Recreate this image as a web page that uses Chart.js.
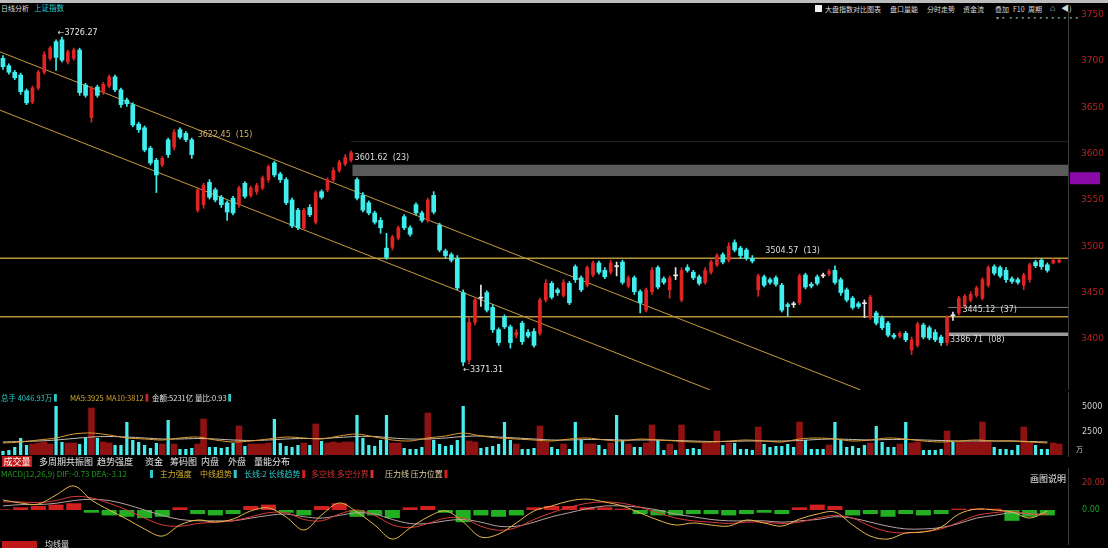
<!DOCTYPE html>
<html lang="zh">
<head>
<meta charset="utf-8">
<title>上证指数</title>
<script src="https://cdn.jsdelivr.net/npm/chart.js@4.4.0/dist/chart.umd.min.js"></script>
<style>
  body { margin: 0; background: #000; }
  #wrap { position: relative; width: 1108px; height: 548px; overflow: hidden; background: #000;
          font-family: "Noto Sans CJK SC", "Noto Sans", sans-serif; }
  canvas { position: absolute; left: 0; }
  .t { position: absolute; font-size: 7px; line-height: 10px; white-space: nowrap; }
  .tab { position: absolute; top: 456px; font-size: 9px; line-height: 11px; color: #e6e6e6; white-space: nowrap; }
</style>
</head>
<body>
<div id="wrap">
  <div style="position:absolute;left:0;top:0;width:1108px;height:3px;background:#bdbdbd"></div>
  <div class="t" style="left:1px;top:3px;font-size:7px;color:#dcdcdc">日线分析</div>
  <div class="t" style="left:34px;top:3px;font-size:7.5px;color:#2fc8c8">上证指数</div>

  <div style="position:absolute;left:815px;top:5px;width:7px;height:7px;background:#eee"></div>
  <div class="t" style="left:825px;top:4px;color:#d8d8d8">大盘指数对比图表</div>
  <div class="t" style="left:890px;top:4px;color:#d8d8d8">盘口量能</div>
  <div class="t" style="left:927px;top:4px;color:#d8d8d8">分时走势</div>
  <div class="t" style="left:963px;top:4px;color:#d8d8d8">资金流</div>
  <div class="t" style="left:995px;top:4px;color:#d8d8d8">叠加</div>
  <div class="t" style="left:1013px;top:4px;color:#d8d8d8">F10</div>
  <div class="t" style="left:1028px;top:4px;color:#d8d8d8">周期</div>
  <div class="t" style="left:1050px;top:3px;color:#d8d8d8;font-size:9px">⌂</div>
  <div class="t" style="left:1061px;top:3px;color:#d8d8d8;font-size:8px">◀)</div>
  <div class="t" style="left:996px;top:14px;color:#9a9a9a;font-size:6px;line-height:7px">▾ ▪  ▪▪▪▪▪▪▪▪▪▪▪▪</div>

  <canvas id="priceChart" width="1108" height="385" style="top:5px"></canvas>
  <canvas id="volChart" width="1108" height="65" style="top:392px"></canvas>
  <canvas id="macdChart" width="1108" height="77" style="top:468px"></canvas>

  <div class="t" style="left:1px;top:393px;font-size:7.5px;color:#2fc8c8">总手 4046.93万 ▍</div>
  <div class="t" style="left:70px;top:393px;font-size:7.5px;color:#d8b030">MA5:3925</div>
  <div class="t" style="left:106px;top:393px;font-size:7.5px;color:#d8a030">MA10:3812 <span style="color:#d02020">▍</span></div>
  <div class="t" style="left:152px;top:393px;font-size:7.5px;color:#e0e0e0">金额:5231亿 量比:0.93 <span style="color:#2fc8c8">▍</span></div>
  <div class="t" style="left:1076px;top:444px;color:#d0d0d0">万</div>

  <div style="position:absolute;left:0;top:455px;width:1068px;height:12px;background:#000"></div>
  <div class="tab" style="left:2px;width:30px;height:11px;background:#c41a1a;color:#fff;text-align:center">成交量</div>
  <div class="tab" style="left:39px">多周期共振图</div>
  <div class="tab" style="left:97px">趋势强度</div>
  <div class="tab" style="left:145px">资金</div>
  <div class="tab" style="left:170px">筹码图</div>
  <div class="tab" style="left:201px">内盘</div>
  <div class="tab" style="left:228px">外盘</div>
  <div class="tab" style="left:254px">量能分布</div>

  <div class="t" style="left:1px;top:469px;font-size:8px;color:#1f9c1f">MACD(12,26,9) DIF:-0.73 DEA:-3.12</div>
  <div class="t" style="left:150px;top:469px;font-size:8px;color:#d8b030"><span style="color:#2fc8c8">▍</span> 主力强度</div>
  <div class="t" style="left:200px;top:469px;font-size:8px;color:#d8b030">中线趋势 <span style="color:#2fc8c8">▍</span></div>
  <div class="t" style="left:244px;top:469px;font-size:8px;color:#2fc8c8">长线:2 长线趋势 <span style="color:#d02020">▍</span></div>
  <div class="t" style="left:311px;top:469px;font-size:8px;color:#d83030">多空线 多空分界 ▍</div>
  <div class="t" style="left:385px;top:469px;font-size:8px;color:#e0d0a0">压力线 压力位置 <span style="color:#d02020">▍</span></div>
  <div class="t" style="left:1030px;top:474px;color:#e6e6e6;font-size:9px">画图说明</div>

  <div style="position:absolute;left:2px;top:541px;width:35px;height:7px;background:#c01818"></div>
  <div class="t" style="left:45px;top:539px;font-size:8px;color:#e0e0e0">均线量</div>
</div>

<script>
// ===== Daily candles (index points) =====
const opens = [
  3703, 3695, 3688, 3685, 3668, 3656, 3671, 3688, 3703, 3721,
  3723, 3699, 3703, 3712, 3674, 3639, 3672, 3667, 3673, 3683,
  3669, 3658, 3653, 3632, 3628, 3606, 3593, 3588, 3615, 3607,
  3626, 3622, 3615, 3539, 3545, 3569, 3561, 3553, 3547, 3552,
  3545, 3568, 3555, 3559, 3563, 3572, 3590, 3578, 3572, 3550,
  3539, 3520, 3542, 3526, 3559, 3561, 3572, 3582, 3589, 3593,
  3572, 3555, 3547, 3536, 3528, 3498, 3499, 3509, 3532, 3520,
  3545, 3536, 3528, 3555, 3523, 3495, 3491, 3487, 3450, 3377,
  3418, 3445, 3450, 3434, 3410, 3424, 3413, 3404, 3417, 3407,
  3408, 3406, 3442, 3460, 3453, 3447, 3460, 3478, 3466, 3458,
  3469, 3482, 3474, 3472, 3479, 3483, 3457, 3466, 3451, 3431,
  3451, 3477, 3465, 3453, 3469, 3442, 3477, 3472, 3467, 3461,
  3472, 3480, 3491, 3485, 3504, 3498, 3496, 3487, 3453, 3467,
  3464, 3466, 3458, 3437, 3438, 3439, 3469, 3459, 3467, 3469,
  3470, 3474, 3464, 3453, 3444, 3438, 3439, 3424, 3428, 3423,
  3417, 3404, 3403, 3406, 3388, 3393, 3415, 3412, 3407, 3402,
  3396, 3425, 3428, 3437, 3442, 3447, 3444, 3458, 3478, 3477,
  3474, 3465, 3464, 3458, 3464, 3483, 3485, 3480, 3482, 3483
];
const closes = [
  3694, 3688, 3682, 3667, 3655, 3671, 3688, 3707, 3714, 3704,
  3701, 3710, 3712, 3666, 3663, 3671, 3663, 3675, 3683, 3669,
  3653, 3654, 3631, 3626, 3604, 3590, 3577, 3595, 3599, 3623,
  3618, 3615, 3599, 3561, 3566, 3553, 3550, 3545, 3537, 3536,
  3563, 3554, 3563, 3566, 3574, 3586, 3577, 3572, 3547, 3522,
  3520, 3539, 3534, 3558, 3553, 3572, 3582, 3591, 3596, 3601,
  3552, 3539, 3536, 3526, 3520, 3488, 3510, 3520, 3520, 3513,
  3536, 3528, 3550, 3537, 3496, 3490, 3485, 3455, 3375, 3418,
  3442, 3444, 3431, 3410, 3396, 3413, 3396, 3407, 3397, 3403,
  3393, 3442, 3460, 3445, 3450, 3461, 3439, 3464, 3453, 3477,
  3482, 3472, 3467, 3482, 3478, 3461, 3466, 3451, 3439, 3453,
  3474, 3456, 3461, 3466, 3468, 3474, 3474, 3466, 3460, 3474,
  3483, 3490, 3483, 3500, 3496, 3490, 3487, 3484, 3468, 3458,
  3461, 3459, 3431, 3435, 3437, 3468, 3456, 3457, 3460, 3468,
  3473, 3461, 3450, 3442, 3434, 3435, 3438, 3445, 3417, 3412,
  3404, 3402, 3406, 3399, 3399, 3416, 3402, 3401, 3399, 3396,
  3423, 3426, 3444, 3446, 3448, 3455, 3464, 3477, 3471, 3468,
  3464, 3462, 3461, 3469, 3480, 3479, 3478, 3474, 3485, 3485
];
const highs = [
  3706, 3697, 3690, 3687, 3670, 3673, 3690, 3710, 3716, 3723,
  3726, 3712, 3714, 3714, 3676, 3673, 3674, 3677, 3685, 3685,
  3671, 3660, 3655, 3634, 3630, 3608, 3595, 3597, 3617, 3626,
  3628, 3624, 3617, 3563, 3568, 3572, 3563, 3555, 3549, 3554,
  3565, 3570, 3565, 3568, 3576, 3588, 3592, 3580, 3574, 3552,
  3541, 3541, 3545, 3560, 3561, 3574, 3585, 3593, 3599, 3603,
  3574, 3558, 3549, 3538, 3531, 3514, 3512, 3522, 3534, 3522,
  3547, 3538, 3552, 3559, 3525, 3497, 3493, 3490, 3453, 3423,
  3445, 3458, 3452, 3437, 3412, 3426, 3415, 3410, 3419, 3410,
  3411, 3444, 3464, 3462, 3455, 3464, 3462, 3480, 3468, 3479,
  3484, 3484, 3477, 3485, 3483, 3485, 3468, 3468, 3453, 3455,
  3477, 3479, 3467, 3468, 3477, 3477, 3480, 3474, 3469, 3477,
  3485, 3492, 3493, 3504, 3507, 3500, 3498, 3490, 3470, 3469,
  3466, 3468, 3460, 3439, 3440, 3470, 3471, 3461, 3469, 3471,
  3475, 3479, 3466, 3455, 3446, 3440, 3442, 3447, 3430, 3425,
  3419, 3406, 3408, 3408, 3402, 3418, 3417, 3414, 3410, 3404,
  3425, 3429, 3446, 3448, 3451, 3457, 3466, 3479, 3480, 3479,
  3477, 3467, 3466, 3471, 3482, 3485, 3487, 3482, 3487, 3486
];
const lows = [
  3691, 3686, 3680, 3664, 3653, 3654, 3669, 3686, 3701, 3690,
  3699, 3697, 3701, 3663, 3661, 3634, 3661, 3664, 3671, 3667,
  3650, 3651, 3629, 3623, 3602, 3588, 3558, 3586, 3596, 3604,
  3616, 3613, 3595, 3537, 3541, 3551, 3548, 3542, 3528, 3534,
  3542, 3552, 3553, 3556, 3561, 3569, 3575, 3569, 3545, 3520,
  3518, 3518, 3532, 3524, 3551, 3559, 3569, 3580, 3587, 3591,
  3550, 3537, 3534, 3524, 3514, 3486, 3496, 3507, 3518, 3511,
  3534, 3526, 3526, 3535, 3494, 3487, 3483, 3453, 3371, 3373,
  3415, 3435, 3429, 3407, 3393, 3411, 3390, 3401, 3394, 3401,
  3391, 3404, 3440, 3443, 3447, 3445, 3437, 3461, 3451, 3456,
  3467, 3470, 3465, 3470, 3468, 3459, 3455, 3448, 3428, 3429,
  3448, 3454, 3459, 3444, 3464, 3440, 3472, 3464, 3458, 3459,
  3470, 3478, 3481, 3483, 3494, 3487, 3485, 3482, 3446, 3456,
  3459, 3457, 3429, 3424, 3434, 3437, 3454, 3455, 3458, 3466,
  3468, 3459, 3447, 3440, 3432, 3433, 3423, 3421, 3415, 3410,
  3402, 3400, 3401, 3397, 3383, 3391, 3400, 3399, 3397, 3393,
  3393, 3420, 3426, 3434, 3440, 3445, 3442, 3456, 3469, 3466,
  3461, 3460, 3459, 3453, 3461, 3477, 3475, 3472, 3481, 3482
];
const volumes = [
  600, 700, 1000, 1900, 1200, 1300, 1400, 1500, 1300, 5100,
  1500, 1400, 1400, 1300, 1900, 4900, 1900, 1500, 1400, 1200,
  1200, 3500, 1700, 1500, 1200, 900, 1400, 1300, 3700, 1300,
  800, 800, 900, 1300, 3800, 1000, 1000, 900, 1000, 1400,
  3100, 1100, 1300, 1300, 1300, 1400, 3800, 1400, 1100, 1000,
  1200, 1400, 1200, 3300, 1600, 1400, 1500, 1400, 1500, 1500,
  4200, 1900, 1200, 1100, 1700, 4200, 1400, 1400, 900, 800,
  800, 1000, 4400, 1700, 1300, 1100, 1200, 1700, 5100, 1600,
  1500, 900, 1000, 1100, 1300, 3500, 1700, 1300, 800, 800,
  900, 3100, 1500, 1000, 800, 1300, 800, 3500, 1700, 1300,
  1300, 1200, 800, 1400, 4200, 1700, 1300, 1000, 1000, 1400,
  3200, 1700, 700, 1300, 700, 3200, 800, 900, 800, 1400,
  1400, 2600, 1200, 1400, 1400, 800, 800, 700, 3000, 1300,
  1000, 1100, 1100, 1300, 1000, 3500, 1700, 800, 800, 800,
  1200, 3500, 1700, 1000, 1100, 900, 1200, 1400, 3100, 1500,
  1000, 1000, 1300, 3500, 1400, 1500, 700, 700, 700, 800,
  2600, 1500, 1500, 1500, 1500, 1500, 3500, 1500, 1000, 800,
  800, 700, 1200, 3000, 1400, 1200, 800, 800, 1400, 1300
];

// ===== Volume averages and indicator, read at every 3rd bar =====
const volMa5 = [
  1400, 1500, 1700, 1900, 2300, 2400, 2200, 1900, 1800, 1700,
  1900, 2000, 1700, 1500, 1600, 1800, 2000, 1900, 1800, 2100,
  2300, 2000, 1700, 1600, 1900, 2100, 2400, 2100, 1900, 1800,
  1700, 1600, 1800, 1900, 1700, 1600, 1800, 1700, 1600, 1500,
  1500, 1600, 1700, 1600, 1500, 1800, 1900, 1800, 1600, 1700,
  1900, 1800, 1600, 1500, 1600, 1700, 1600, 1600, 1500, 1400
];
const volMa10 = [
  1500, 1550, 1600, 1700, 1850, 2000, 2050, 2000, 1900, 1800,
  1800, 1850, 1800, 1700, 1650, 1700, 1800, 1850, 1850, 1950,
  2050, 2050, 1900, 1800, 1800, 1900, 2050, 2100, 2000, 1900,
  1800, 1700, 1700, 1750, 1750, 1700, 1700, 1700, 1650, 1600,
  1550, 1550, 1600, 1600, 1600, 1650, 1750, 1800, 1750, 1700,
  1750, 1750, 1700, 1650, 1600, 1600, 1600, 1600, 1550, 1500
];
const difLine = [
  7.4, 5.2, 4.4, 11.1, 17.8, 7.4, 0, -6.7, -14.1, -19.3,
  -11.1, -7.4, -8.9, -6.7, -0.7, 1.5, -5.2, -14.8, -3.7, 5.2,
  -1.5, -11.1, -21.5, -13.3, -5.2, -0.7, -8.9, -20, -17.8, -9.6,
  -0.7, 3.0, 6.7, 8.1, 5.9, 3.0, -2.2, -7.4, -11.1, -9.6,
  -11.1, -11.9, -7.4, -9.6, -11.9, -6.7, -3.0, -1.5, -11.1, -19.3,
  -21.5, -17, -16.3, -12.6, -3.0, 0.7, 0, -1.5, -5.9, -0.7
];
const deaLine = [
  6, 6, 5.5, 7, 10, 9, 5, 0, -6, -11,
  -12, -10, -9, -8, -5, -2, -2, -7, -8, -3,
  0, -4, -11, -13, -10, -6, -6, -12, -15, -13,
  -7, -2, 2, 5, 6, 5, 2, -2, -6, -8,
  -9, -10, -9, -9, -10, -9, -6, -4, -6, -12,
  -16, -17, -16, -14, -9, -4, -2, -1, -3, -3
];
const slowLine = [
  3, 4, 4, 5, 7, 8, 7, 4, 0, -4,
  -7, -8, -8, -8, -6, -4, -3, -5, -6, -4,
  -2, -3, -7, -10, -10, -8, -7, -9, -12, -12,
  -9, -5, -2, 1, 3, 3, 2, 0, -3, -5,
  -7, -8, -8, -8, -9, -8, -7, -5, -6, -9,
  -12, -14, -14, -13, -10, -6, -4, -2, -3, -3
];
const macdBars = [
  0.5, 2, 3, 4, 5, -2, -4, -5, -6, -5,
  2, -3, -4, -3, 3, 4, -2, -4, 3, 5,
  -5, -4, -6, 2, 3, -2, -9, -4, -5, -4,
  2, 3, 3, 2, 2, 1, -3, -4, -4, -3,
  -3, -4, -3, -2, -3, 2, 4, 3, -4, -3,
  -5, -3, -4, -3, 1, 1, 1, -8, -5, -4
];

// ===== Axis ticks =====
const priceTicks = [3400, 3450, 3500, 3550, 3600, 3650, 3700, 3750];
const volTicks = [2500, 5000];
const macdTicks = [0, 20];

// ===== Drawn levels (bar index, price) =====
const upperTrend = [[-0.5, 3710], [145.3, 3345]];
const lowerTrend = [[-0.5, 3647], [119.8, 3345]];
const levelHigh = [[-0.5, 3487], [180.5, 3487]];
const levelLow = [[-0.5, 3424], [180.5, 3424]];
const faintLevel = [[59, 3613], [180.5, 3613]];
const grayBox = [59.2, 3576, 3588];      // from index, bottom, top
const lightBox = [160.2, 3403, 3407];
const thinLevel = [[160.2, 3434], [180.5, 3434]];
const axisMark = [3567, 3580];

// ===== Price labels =====
const notes = [
  { i: 9.3, p: 3730, text: "←3726.27", color: "#e6e6e6" },
  { i: 33, p: 3620, text: "3622.45  (15)", color: "#d0b060" },
  { i: 59.6, p: 3595, text: "3601.62  (23)", color: "#dcdcdc" },
  { i: 78, p: 3366, text: "←3371.31", color: "#e6e6e6" },
  { i: 129.2, p: 3495, text: "3504.57  (13)", color: "#dcdcdc" },
  { i: 162.6, p: 3431, text: "3445.12  (37)", color: "#dcdcdc" },
  { i: 160.5, p: 3399, text: "3386.71  (08)", color: "#dcdcdc" }
];

// ===== Colours =====
const UP = "#e02424", DOWN = "#40eeee", FLAT = "#e8e8e8";
const idx = opens.map((_, i) => i);
const sampleX = difLine.map((_, k) => k * 3);

function isUp(i) { return closes[i] > opens[i] + 1; }
function candleColor(i) {
  if (Math.abs(closes[i] - opens[i]) <= 1) return FLAT;
  return closes[i] > opens[i] ? UP : DOWN;
}
function body(i) {
  return { x: i, y: [Math.min(opens[i], closes[i]), Math.max(opens[i], closes[i])] };
}

const xAxis = { type: "linear", min: -0.5, max: 180.5, display: false, offset: false };

function rightAxis(extra) {
  return Object.assign({
    position: "right",
    grid: { display: false },
    border: { display: true, color: "#3c3c3c" },
    afterFit: s => { s.width = 40; s.paddingTop = 0; s.paddingBottom = 0; }
  }, extra);
}

function seg(points, color, width, order) {
  return {
    type: "line",
    data: points.map(p => ({ x: p[0], y: p[1] })),
    borderColor: color, borderWidth: width, pointRadius: 0, fill: false, order: order || 5
  };
}

function box(b, color) {
  return {
    type: "line",
    data: [{ x: b[0], y: b[2] }, { x: 180.5, y: b[2] }],
    borderWidth: 0, pointRadius: 0, backgroundColor: color,
    fill: { value: b[1] }, order: 6
  };
}

// ===== Price labels plugin =====
const notePlugin = {
  id: "notes",
  afterDatasetsDraw(chart) {
    const { ctx, scales: { x, y }, chartArea } = chart;
    ctx.save();
    ctx.font = '8px "DejaVu Sans"';
    ctx.textBaseline = "middle";
    notes.forEach(n => {
      ctx.fillStyle = n.color;
      ctx.fillText(n.text, x.getPixelForValue(n.i), y.getPixelForValue(n.p));
    });
    ctx.fillStyle = "#8a0aa8";
    const y1 = y.getPixelForValue(axisMark[1]), y0 = y.getPixelForValue(axisMark[0]);
    ctx.fillRect(chartArea.right + 2, y1, 30, y0 - y1);
    ctx.restore();
  }
};

// ===== Price chart =====
new Chart(document.getElementById("priceChart"), {
  type: "bar",
  data: {
    datasets: [
      {
        data: idx.map(i => ({ x: i, y: [lows[i], highs[i]] })),
        backgroundColor: idx.map(candleColor),
        barThickness: 1, grouped: false, order: 3
      },
      {
        data: idx.filter(isUp).map(body),
        backgroundColor: UP,
        barThickness: 3, grouped: false, order: 2
      },
      {
        data: idx.filter(i => !isUp(i)).map(body),
        backgroundColor: idx.filter(i => !isUp(i)).map(candleColor),
        barThickness: 4, minBarLength: 1, grouped: false, order: 1
      },
      box(grayBox, "#5a5a5a"),
      box(lightBox, "#9a9a9a"),
      seg(faintLevel, "#262626", 1),
      seg(thinLevel, "#808080", 1),
      seg(upperTrend, "#c89a40", 1),
      seg(lowerTrend, "#c89a40", 1),
      seg(levelHigh, "#b8953a", 1.5),
      seg(levelLow, "#b8953a", 1.5)
    ]
  },
  options: {
    responsive: false, animation: false, devicePixelRatio: 1,
    layout: { padding: 0 },
    plugins: { legend: { display: false }, tooltip: { enabled: false } },
    scales: {
      x: xAxis,
      y: rightAxis({
        min: 3344.8, max: 3760.6,
        afterBuildTicks: s => { s.ticks = priceTicks.map(v => ({ value: v })); },
        ticks: { color: "#b82222", font: { size: 9, family: "DejaVu Sans" }, padding: 5, callback: v => String(v) }
      })
    }
  },
  plugins: [notePlugin]
});

// ===== Volume chart =====
new Chart(document.getElementById("volChart"), {
  type: "bar",
  data: {
    datasets: [
      {
        data: idx.filter(isUp).map(i => ({ x: i, y: volumes[i] })),
        backgroundColor: "#8e1212", barPercentage: 1, categoryPercentage: 1, grouped: false, order: 3
      },
      {
        data: idx.filter(i => !isUp(i)).map(i => ({ x: i, y: volumes[i] })),
        backgroundColor: "#48eeee", barPercentage: 0.55, categoryPercentage: 1, grouped: false, order: 2
      },
      {
        type: "line", data: sampleX.map((x, k) => ({ x, y: volMa5[k] })),
        borderColor: "#e09a30", borderWidth: 1, pointRadius: 0, tension: 0.3, order: 1
      },
      {
        type: "line", data: sampleX.map((x, k) => ({ x, y: volMa10[k] })),
        borderColor: "#c8c0b0", borderWidth: 1, pointRadius: 0, tension: 0.3, order: 1
      }
    ]
  },
  options: {
    responsive: false, animation: false, devicePixelRatio: 1,
    plugins: { legend: { display: false }, tooltip: { enabled: false } },
    scales: {
      x: xAxis,
      y: rightAxis({
        min: 0, max: 6500,
        afterBuildTicks: s => { s.ticks = volTicks.map(v => ({ value: v })); },
        ticks: { color: "#d0d0d0", font: { size: 8, family: "DejaVu Sans" }, padding: 6, callback: v => String(v) }
      })
    }
  }
});

// ===== Indicator chart =====
new Chart(document.getElementById("macdChart"), {
  type: "bar",
  data: {
    datasets: [
      {
        data: sampleX.map((x, k) => ({ x, y: macdBars[k] })),
        backgroundColor: macdBars.map(v => v >= 0 ? "#d02020" : "#22b022"),
        barPercentage: 0.85, categoryPercentage: 1, order: 3
      },
      {
        type: "line", data: sampleX.map((x, k) => ({ x, y: slowLine[k] })),
        borderColor: "#b8a0a0", borderWidth: 1, pointRadius: 0, tension: 0.35, order: 2
      },
      {
        type: "line", data: sampleX.map((x, k) => ({ x, y: deaLine[k] })),
        borderColor: "#d83a3a", borderWidth: 1, pointRadius: 0, tension: 0.35, order: 1
      },
      {
        type: "line", data: sampleX.map((x, k) => ({ x, y: difLine[k] })),
        borderColor: "#e8b84a", borderWidth: 1, pointRadius: 0, tension: 0.35, order: 0
      }
    ]
  },
  options: {
    responsive: false, animation: false, devicePixelRatio: 1,
    plugins: { legend: { display: false }, tooltip: { enabled: false } },
    scales: {
      x: xAxis,
      y: rightAxis({
        min: -25.9, max: 31.1,
        afterBuildTicks: s => { s.ticks = macdTicks.map(v => ({ value: v })); },
        ticks: {
          color: c => c.tick.value > 0 ? "#c02828" : "#22a022",
          font: { size: 8, family: "DejaVu Sans" }, padding: 6, callback: v => v.toFixed(2)
        }
      })
    }
  }
});
</script>
</body>
</html>
